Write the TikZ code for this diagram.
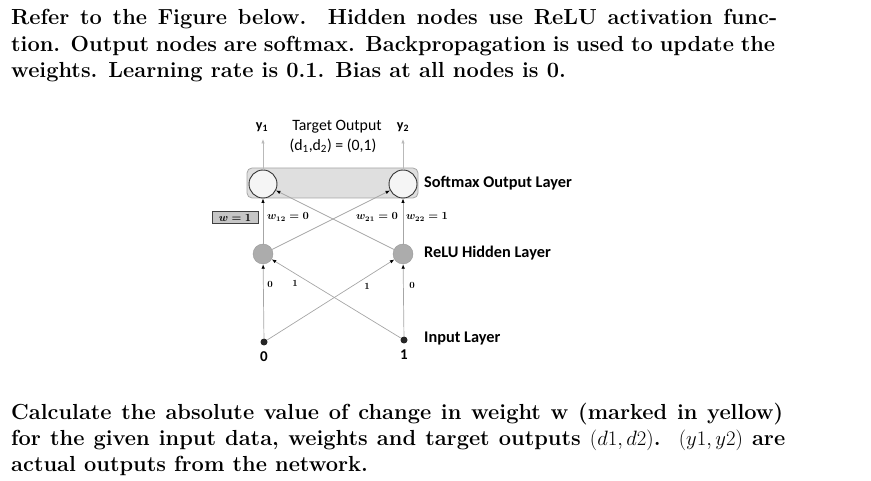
\documentclass[tikz,border=0pt]{standalone}
\usepackage{fontspec}
\usetikzlibrary{arrows.meta}
\newfontfamily\calfont{Carlito}
\begin{document}
\begin{tikzpicture}[x=1pt,y=-1pt,
  bodytext/.style={anchor=base west,inner sep=0pt,font=\fontsize{21.8}{26}\selectfont\bfseries},
  conn/.style={draw=gray!70,line width=0.7pt,-{Latex[length=4.5pt,width=3.5pt,black]}},
  outarrow/.style={draw=gray!55,line width=0.7pt,-{Latex[length=4.5pt,width=3.5pt,gray!55]}},
  outnode/.style={circle,draw=gray!40!black,line width=0.9pt,fill=gray!8,minimum size=28pt,inner sep=0pt},
  hidnode/.style={circle,draw=gray!80,fill=gray!65,minimum size=20pt,inner sep=0pt},
  innode/.style={circle,fill=black!85,minimum size=7pt,inner sep=0pt},
  layerlabel/.style={anchor=west,inner sep=0pt,font=\calfont\fontsize{16.3}{19}\selectfont\bfseries},
  wlabel/.style={inner sep=0pt,font=\fontsize{10.5}{12}\selectfont\boldmath},
  smallw/.style={inner sep=0pt,font=\fontsize{9.5}{11}\selectfont\bfseries},
  cal/.style={inner sep=0pt,font=\calfont\fontsize{15.8}{18}\selectfont}
]
\useasboundingbox (0,0) rectangle (871,481);
% top text
\node[bodytext] (t1) at (11,25) {\makebox[766pt][s]{Refer to the Figure below.\ \ Hidden nodes use ReLU activation func-}};
\node[bodytext] (t2) at (11,52) {\makebox[764pt][s]{tion. Output nodes are softmax. Backpropagation is used to update the}};
\node[bodytext] (t3) at (11,78) {weights. Learning rate is 0.1. Bias at all nodes is 0.};
% bottom text
\node[bodytext] (b1) at (11,419) {\makebox[772pt][s]{Calculate the absolute value of change in weight w (marked in yellow)}};
\node[bodytext] (b2) at (11,445) {\makebox[774pt][s]{for the given input data, weights and target outputs $(d1,d2)$.\ \ $(y1,y2)$ are}};
\node[bodytext] (b3) at (11,471) {actual outputs from the network.};
% output layer box
\draw[draw=gray!70,fill=gray!25,rounded corners=5pt,line width=0.8pt] (247,168) rectangle (418,198);
\node[outnode] (out1) at (263,184) {};
\node[outnode] (out2) at (403,184) {};
\node[hidnode] (hid1) at (263,254) {};
\node[hidnode] (hid2) at (403,254) {};
\node[innode] (in1) at (264,342) {};
\node[innode] (in2) at (404,340) {};
\coordinate (y1tip) at (263,139);
\coordinate (y2tip) at (403,139);
% connectors
\draw[outarrow] (out1) -- (y1tip);
\draw[outarrow] (out2) -- (y2tip);
\draw[conn] (hid1) -- (out1);
\draw[conn] (hid1) -- (out2);
\draw[conn] (hid2) -- (out1);
\draw[conn] (hid2) -- (out2);
\draw[conn] (in1) -- (hid1);
\draw[conn] (in1) -- (hid2);
\draw[conn] (in2) -- (hid1);
\draw[conn] (in2) -- (hid2);
% labels
\node[inner sep=0pt,font=\calfont\fontsize{14}{16}\selectfont\bfseries] (y1) at (262,127) {y\textsubscript{1}};
\node[inner sep=0pt,font=\calfont\fontsize{14}{16}\selectfont\bfseries] (y2) at (403,127) {y\textsubscript{2}};
\node[cal] (tgt) at (337,127) {Target Output};
\node[cal] (dd) at (333,146) {(d\textsubscript{1},d\textsubscript{2}) = (0,1)};
\node[layerlabel] (lout) at (424,183) {Softmax Output Layer};
\node[layerlabel] (lhid) at (424,253) {ReLU Hidden Layer};
\node[layerlabel] (lin) at (424,338) {Input Layer};
\node[wlabel,draw=gray!50!black,fill=gray!45,minimum width=46pt,minimum height=12pt] (w) at (235,217.5) {$w=1$};
\node[wlabel] (w12) at (288,217) {$w_{12}=0$};
\node[wlabel] (w21) at (377,217) {$w_{21}=0$};
\node[wlabel] (w22) at (427,217) {$w_{22}=1$};
\node[smallw] (l1) at (270,284) {0};
\node[smallw] (l2) at (295,283) {1};
\node[smallw] (l3) at (367,286) {1};
\node[smallw] (l4) at (412,285) {0};
\node[inner sep=0pt,font=\calfont\fontsize{15}{18}\selectfont\bfseries] (i0) at (264,357) {0};
\node[inner sep=0pt,font=\calfont\fontsize{15}{18}\selectfont\bfseries] (i1) at (404,355) {1};
\end{tikzpicture}
\end{document}
